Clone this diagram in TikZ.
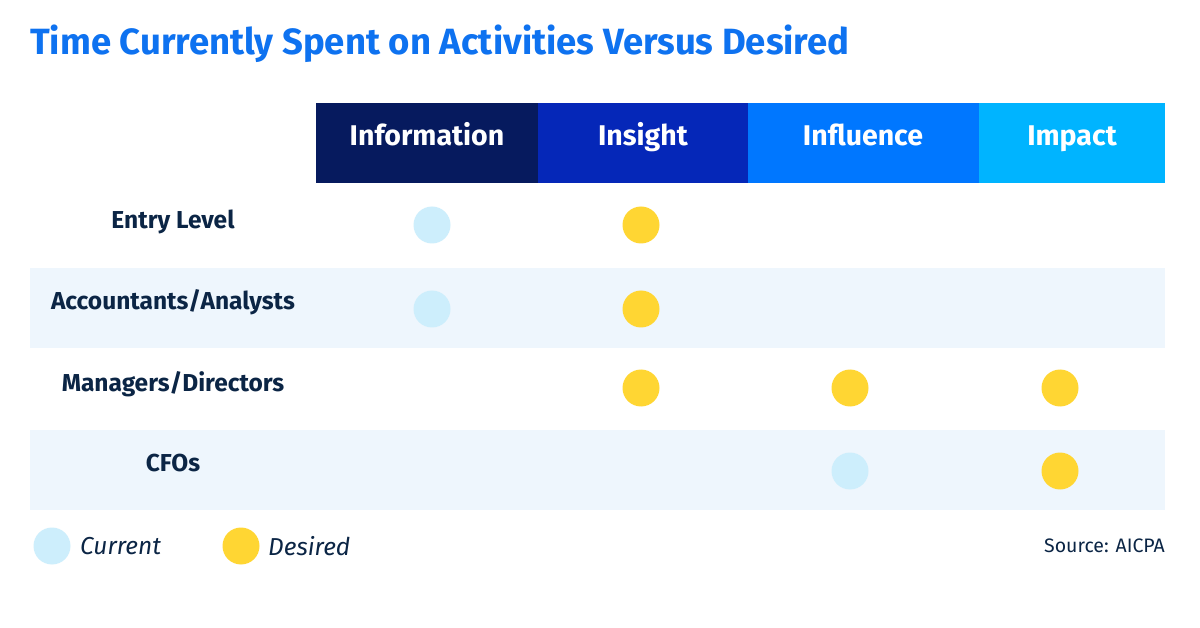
\documentclass[tikz,border=0pt]{standalone}
\usepackage{fontspec}
\setmainfont{Fira Sans}
\definecolor{navy}{HTML}{061A5E}
\definecolor{ins}{HTML}{0527B8}
\definecolor{infl}{HTML}{0077FF}
\definecolor{imp}{HTML}{00B4FF}
\definecolor{band}{HTML}{EEF6FD}
\definecolor{cur}{HTML}{CDEEFC}
\definecolor{des}{HTML}{FFD633}
\definecolor{lab}{HTML}{0B2545}
\definecolor{ttl}{HTML}{0E72F0}
\begin{document}
\begin{tikzpicture}[x=1pt,y=-1pt,
 hdr/.style={font=\fontsize{28.5}{32}\selectfont\bfseries,text=white,text height=0.72em,text depth=0.2em},
 rowlab/.style={font=\fontsize{24.5}{28}\selectfont\bfseries,text=lab,text height=0.72em,text depth=0.2em},
 curdot/.style={circle,fill=cur,minimum size=37pt,inner sep=0pt},
 desdot/.style={circle,fill=des,minimum size=37pt,inner sep=0pt}]
\useasboundingbox (0,0) rectangle (1200,628);
\fill[white] (0,0) rectangle (1200,628);
\node[anchor=west,text=ttl,font=\fontsize{36.5}{40}\selectfont\bfseries,inner sep=0pt] (title) at (30,44) {Time Currently Spent on Activities Versus Desired};
\fill[navy] (316,103) rectangle (538,183);
\fill[ins] (538,103) rectangle (748,183);
\fill[infl] (748,103) rectangle (979,183);
\fill[imp] (979,103) rectangle (1165,183);
\node[hdr] (h1) at (427,143) {Information};
\node[hdr] (h2) at (643,143) {Insight};
\node[hdr] (h3) at (863,143) {Influence};
\node[hdr] (h4) at (1072,143) {Impact};
\fill[band] (30,268) rectangle (1165,348);
\fill[band] (30,430) rectangle (1165,510);
\node[rowlab] (r1) at (173,226) {Entry Level};
\node[rowlab] (r2) at (173,307) {Accountants/Analysts};
\node[rowlab] (r3) at (173,389) {Managers/Directors};
\node[rowlab] (r4) at (173,469) {CFOs};
\node[curdot] (a1) at (432,225) {};
\node[desdot] (a2) at (641,225) {};
\node[curdot] (b1) at (432,309) {};
\node[desdot] (b2) at (641,309) {};
\node[desdot] (c2) at (641,388) {};
\node[desdot] (c3) at (850,388) {};
\node[desdot] (c4) at (1060,388) {};
\node[curdot] (d3) at (850,471) {};
\node[desdot] (d4) at (1060,471) {};
\node[curdot] (l1) at (52,546) {};
\node[anchor=west,text=lab,font=\fontsize{24.5}{28}\selectfont\itshape,inner sep=0pt] (lt1) at (80,546) {Current};
\node[desdot] (l2) at (241,546) {};
\node[anchor=west,text=lab,font=\fontsize{24.5}{28}\selectfont\itshape,inner sep=0pt] (lt2) at (268,546) {Desired};
\node[anchor=east,text=lab,font=\fontsize{19.5}{22}\selectfont,inner sep=0pt] (src) at (1165,546) {Source: AICPA};
\end{tikzpicture}
\end{document}
